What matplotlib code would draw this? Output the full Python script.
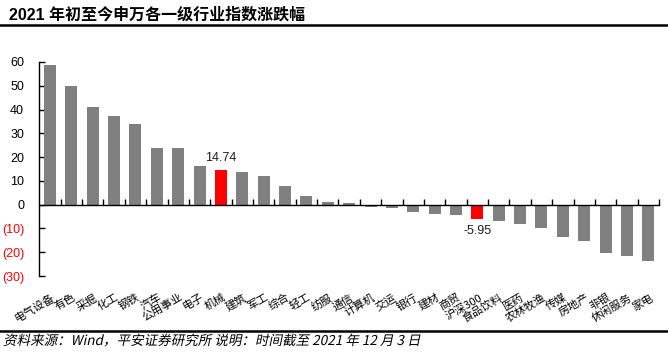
import matplotlib
matplotlib.use("Agg")
import matplotlib.pyplot as plt
from matplotlib.transforms import blended_transform_factory, Affine2D, IdentityTransform
from matplotlib.ticker import FixedLocator, FuncFormatter
from matplotlib.textpath import TextPath
from matplotlib.patches import PathPatch
from matplotlib.font_manager import FontProperties

plt.rcParams['font.family'] = ['Liberation Sans', 'Noto Sans CJK SC', 'DejaVu Sans']

categories = ["电气设备", "有色", "采掘", "化工", "钢铁", "汽车", "公用事业", "电子", "机械",
              "建筑", "军工", "综合", "轻工", "纺服", "通信", "计算机", "交运", "银行", "建材",
              "商贸", "沪深300", "食品饮料", "医药", "农林牧渔", "传媒", "房地产", "非银",
              "休闲服务", "家电"]
values = [58.9, 49.9, 40.9, 37.2, 34.1, 24.0, 24.0, 16.1, 14.74,
          13.8, 12.2, 8.0, 3.8, 1.2, 0.8, -0.8, -1.3, -3.2, -3.9,
          -4.4, -5.95, -7.05, -8.1, -9.8, -13.4, -15.1, -20.2,
          -21.5, -23.9]
highlight = ["机械", "沪深300"]
yticks = [60, 50, 40, 30, 20, 10, 0, -10, -20, -30]
title = "2021 年初至今申万各一级行业指数涨跌幅"
footnote = "资料来源：Wind，平安证券研究所 说明：时间截至 2021 年 12 月 3 日"

W, H, DPI = 668, 357, 100
fig = plt.figure(figsize=(W / DPI, H / DPI), dpi=DPI)
ax = fig.add_axes([39.3 / W, 1 - 276 / H, (659 - 39.3) / W, (276 - 62) / H])

x = list(range(len(categories)))
colors = ["#FF0000" if c in highlight else "#808080" for c in categories]
ax.bar(x, values, width=0.56, color=colors, zorder=2)

ax.set_xlim(-0.5, len(categories) - 0.5)
ax.set_ylim(-30, 60)

for s in ['top', 'right']:
    ax.spines[s].set_visible(False)
ax.spines['bottom'].set_position(('data', 0))
ax.spines['bottom'].set_linewidth(1.0)
ax.spines['left'].set_linewidth(1.0)
ax.spines['bottom'].set_zorder(3)

ax.yaxis.set_major_locator(FixedLocator(yticks))
ax.yaxis.set_major_formatter(FuncFormatter(lambda v, p: f"{int(v)}" if v >= 0 else f"({int(-v)})"))
ax.tick_params(axis='y', direction='in', length=4, width=1, labelsize=9, pad=11)
for lbl, v in zip(ax.get_yticklabels(), yticks):
    lbl.set_color("#FF0000" if v < 0 else "#000000")

ax.xaxis.set_major_locator(FixedLocator([i + 0.5 for i in range(len(categories))]))
ax.xaxis.set_major_formatter(FuncFormatter(lambda v, p: ""))
ax.tick_params(axis='x', direction='in', length=4, width=1)

trans = blended_transform_factory(ax.transData, ax.transAxes)
for i, c in enumerate(categories):
    ax.text(i + 0.05, -0.075, c, transform=trans, rotation=30, ha='right', va='top',
            rotation_mode='anchor', fontsize=8, color='#000000',
            family=['Noto Sans CJK SC', 'Liberation Sans'])

for i, (c, v) in enumerate(zip(categories, values)):
    if c in highlight:
        if v >= 0:
            ax.text(i, v + 2.5, f"{v:.2f}", ha='center', va='bottom', fontsize=9, color='#1a1a2e')
        else:
            ax.text(i, v - 2.8, f"{v:.2f}", ha='center', va='top', fontsize=9, color='#1a1a2e')

fig.text(9 / W, 1 - 15 / H, title, fontsize=11.5, fontweight='bold', ha='left', va='center',
         family=['Liberation Sans', 'Noto Sans CJK SC'])
fig.add_artist(plt.Line2D([0, 1], [1 - 25 / H, 1 - 25 / H], color='black', linewidth=1.8))
fig.add_artist(plt.Line2D([0, 1], [1 - 330.5 / H, 1 - 330.5 / H], color='black', linewidth=1.8))

# footnote with a slanted (oblique) look, as in the reference
drawn = False
try:
    fp = FontProperties(family=['Noto Sans CJK SC', 'Liberation Sans'], size=9.75)
    tp = TextPath((0, 0), footnote, prop=fp)
    tr = (Affine2D().skew_deg(12, 0).scale(DPI / 72.0)
          .translate(3, H - 345) + IdentityTransform())
    patch = PathPatch(tp, transform=tr, facecolor='black', edgecolor='none', lw=0)
    fig.add_artist(patch)
    drawn = True
except Exception:
    drawn = False
if not drawn:
    fig.text(3 / W, 1 - 340 / H, footnote, fontsize=9.75, style='italic', ha='left', va='center',
             family=['Liberation Sans', 'Noto Sans CJK SC'])

fig.savefig("out.png", dpi=DPI)
